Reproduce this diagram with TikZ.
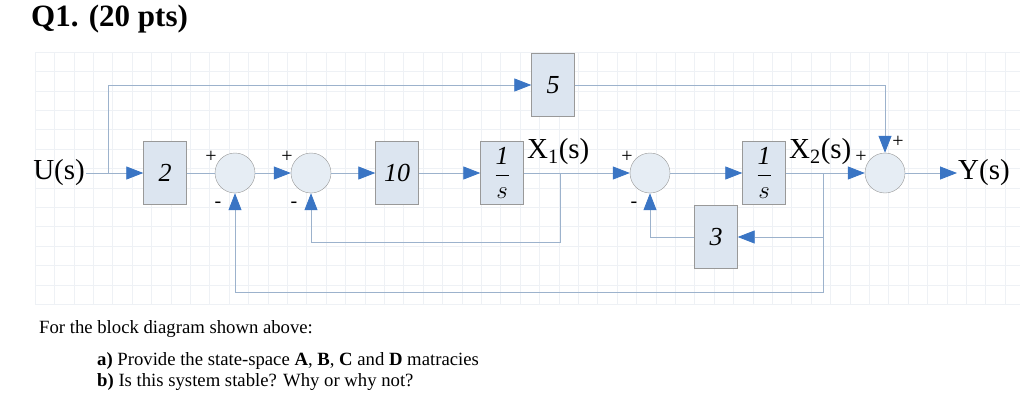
\documentclass[tikz,border=0pt]{standalone}
\usepackage{fontspec}
\setmainfont{Liberation Serif}
\usetikzlibrary{arrows.meta}
\definecolor{wire}{HTML}{9CB2CC}
\definecolor{tip}{HTML}{3A75C4}
\definecolor{boxfill}{HTML}{DCE5F0}
\definecolor{gridc}{HTML}{EEF1F5}
\tikzset{
  blk/.style={draw=gray!80, fill=boxfill, minimum width=43pt, minimum height=63pt, inner sep=0pt, font=\fontsize{26}{28}\selectfont\itshape},
  sumn/.style={circle, draw=gray!80, fill=boxfill!70, minimum size=40pt, inner sep=0pt},
  w/.style={draw=wire, line width=0.8pt},
  a/.style={w, -{Triangle[length=17pt,width=13pt,color=tip,fill=tip]}},
  lbl/.style={font=\fontsize{29}{30}\selectfont, inner sep=1pt},
  sg/.style={font=\fontsize{20}{20}\selectfont, inner sep=0pt},
  txt/.style={font=\fontsize{18.7}{20}\selectfont, anchor=west, inner sep=0pt}
}
\newcommand{\oneovers}{$\displaystyle\frac{\mathit{1}}{s}$}
\begin{document}
\begin{tikzpicture}[x=1pt,y=-1pt]
\useasboundingbox (0,0) rectangle (1024,415);
\fill[white] (0,0) rectangle (1024,415);
\foreach \gx in {35,54.4,...,1020} \draw[gridc, line width=0.4pt] (\gx,52) -- (\gx,305);
\foreach \gy in {52,71.4,...,305} \draw[gridc, line width=0.4pt] (35,\gy) -- (1020,\gy);
\node[anchor=west, font=\fontsize{31}{33}\selectfont\bfseries, inner sep=0pt] (title) at (31,19) {Q1. (20 pts)};
% blocks
\node[blk] (b2) at (165,173) {2};
\node[sumn] (s1) at (235,173) {};
\node[sumn] (s2) at (311,173) {};
\node[blk] (b10) at (397,173) {10};
\node[blk] (i1) at (502,173) {\oneovers};
\node[blk] (b5) at (553,85) {5};
\node[sumn] (s3) at (650,173) {};
\node[blk] (i2) at (764,173) {\oneovers};
\node[blk] (b3) at (716,237) {3};
\node[sumn] (s4) at (885,173) {};
\node[lbl, anchor=east] (u) at (86,173) {U(s)};
\node[lbl, anchor=west] (y) at (957,173) {Y(s)};
\node[lbl, anchor=west] (x1) at (526,152) {X\textsubscript{1}(s)};
\node[lbl, anchor=west] (x2) at (788,152) {X\textsubscript{2}(s)};
% signs
\node[sg] at (211,157) {+}; \node[sg] at (218,205) {-};
\node[sg] at (287,157) {+}; \node[sg] at (294,205) {-};
\node[sg] at (627,157) {+}; \node[sg] at (634,205) {-};
\node[sg] at (861,157) {+}; \node[sg] at (898,142) {+};
% coordinates
\coordinate (ub) at (108,173);
\coordinate (ut) at (108,85);
\coordinate (t5) at (885,85);
\coordinate (k1) at (560,173);
\coordinate (k1b) at (560,242);
\coordinate (k1c) at (311,242);
\coordinate (k2) at (823,173);
\coordinate (k2b) at (823,237);
\coordinate (k2c) at (823,292);
\coordinate (k2d) at (235,292);
\coordinate (k3) at (650,237);
% wires
\draw[a] (u) -- (b2);
\draw[w] (ub) -- (ut);
\draw[a] (ut) -- (b5);
\draw[w] (b5) -- (t5);
\draw[a] (t5) -- (s4);
\draw[w] (b2) -- (s1);
\draw[a] (s1) -- (s2);
\draw[a] (s2) -- (b10);
\draw[a] (b10) -- (i1);
\draw[a] (i1) -- (s3);
\draw[a] (s3) -- (i2);
\draw[a] (i2) -- (s4);
\draw[a] (s4) -- (y);
\draw[w] (k1) -- (k1b) -- (k1c);
\draw[a] (k1c) -- (s2);
\draw[w] (k2) -- (k2c) -- (k2d);
\draw[a] (k2d) -- (s1);
\draw[a] (k2b) -- (b3);
\draw[w] (b3) -- (k3);
\draw[a] (k3) -- (s3);
% text
\node[txt] (t1) at (39,329) {For the block diagram shown above:};
\node[txt] (t2) at (97,361) {\textbf{a)} Provide the state-space \textbf{A}, \textbf{B}, \textbf{C} and \textbf{D} matracies};
\node[txt] (t3) at (97,382) {\textbf{b)} Is this system stable? Why or why not?};
\end{tikzpicture}
\end{document}
